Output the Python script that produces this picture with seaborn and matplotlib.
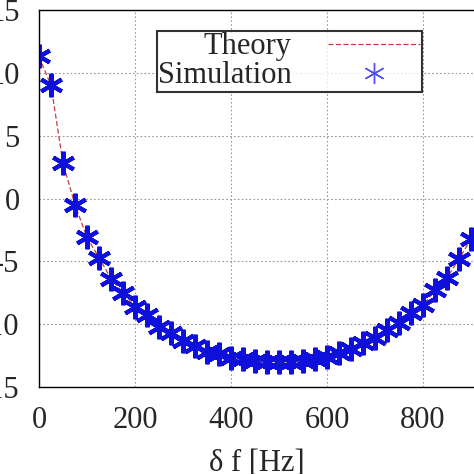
import matplotlib
matplotlib.use("Agg")
import matplotlib.pyplot as plt
import seaborn as sns
import pandas as pd

freq = [0, 25, 50, 75, 100, 125, 150, 175, 200, 225, 250, 275, 300, 325, 350, 375, 400,
        425, 450, 475, 500, 525, 550, 575, 600, 625, 650, 675, 700, 725, 750, 775, 800,
        825, 850, 875, 900]
sim = [11.3, 9.0, 2.8, -0.5, -3.1, -4.7, -6.4, -7.5, -8.6, -9.3, -10.2, -10.7, -11.3,
       -11.7, -12.2, -12.4, -12.7, -12.8, -12.9, -13.0, -13.0, -13.0, -12.9, -12.8, -12.6,
       -12.3, -12.0, -11.5, -11.1, -10.5, -9.9, -9.1, -8.5, -7.3, -6.3, -4.8, -3.2]
theory = [11.3, 9.0, 2.8, -0.5, -3.1, -4.7, -6.4, -7.5, -8.6, -9.3, -10.2, -10.7, -11.3,
          -11.7, -12.2, -12.4, -12.7, -12.8, -12.9, -13.0, -13.0, -13.0, -12.9, -12.8, -12.6,
          -12.3, -12.0, -11.5, -11.1, -10.5, -9.9, -9.1, -8.5, -7.3, -6.3, -4.8, -3.2]
yticks = [-15, -10, -5, 0, 5, 10, 15]
xticks = [0, 200, 400, 600, 800]

sns.set_style("white")
plt.rcParams['font.family'] = 'serif'
plt.rcParams['font.serif'] = ['Liberation Serif', 'DejaVu Serif']
plt.rcParams['axes.unicode_minus'] = False
plt.rcParams['font.size'] = 22

df = pd.DataFrame({"f": freq, "sim": sim, "theory": theory})
fig = plt.figure(figsize=(4.74, 4.74), dpi=100)
ax = fig.add_axes([39/474, (474-387)/474, (474-39)/474, 377/474])
sns.lineplot(data=df, x="f", y="theory", ax=ax, color="#c04040", lw=0.9,
             linestyle=(0, (4, 2)), label="Theory")
sns.lineplot(data=df, x="f", y="sim", ax=ax, color="#0000ee", lw=0, marker=(6, 2, 0),
             markersize=17, markeredgewidth=3, markeredgecolor="#1010dd", label="Simulation")
ax.set_xlim(0, 906)
ax.set_ylim(-15, 15)
ax.set_xticks(xticks)
ax.set_yticks(yticks)
ax.set_xlabel("δ f [Hz]", labelpad=10)
ax.set_ylabel("")
ax.grid(True, color="#999999", linestyle=(0, (1.5, 2)), lw=0.8)
ax.tick_params(axis="x", direction="in", length=5, color="black", pad=14)
ax.tick_params(axis="y", direction="in", length=5, color="black", pad=14)
for s in ax.spines.values():
    s.set_color("black")
    s.set_linewidth(1.0)
ax.spines["right"].set_visible(False)
leg = ax.legend(loc="upper left", bbox_to_anchor=(0.235, 0.985), frameon=True, fancybox=False,
                edgecolor="black", markerfirst=False, handlelength=3.0, borderpad=0.05,
                labelspacing=0.0, handletextpad=1.2, fontsize=22)
leg.get_frame().set_linewidth(1.5)
for h in leg.legend_handles:
    try:
        h.set_markeredgewidth(1)
        h.set_markersize(15)
        h.set_markeredgecolor("#5050ee")
    except Exception:
        pass
fig.savefig("out.png", dpi=100)
